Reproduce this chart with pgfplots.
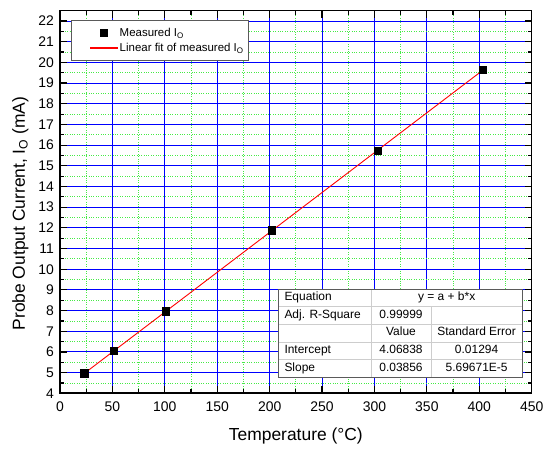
\documentclass[border=0pt]{standalone}
\usepackage{fontspec}
\setmainfont{Liberation Sans}
\usepackage{pgfplots}
\pgfplotsset{compat=1.18}

\definecolor{gridblue}{RGB}{0,0,255}
\definecolor{gridgreen}{RGB}{70,235,70}
\definecolor{fitred}{RGB}{255,0,0}
\definecolor{tabline}{RGB}{205,205,205}
\definecolor{tabborder}{RGB}{90,90,90}

\pgfplotsset{
    markimg/.style={legend image code/.code={%
        \node[inner sep=0pt, minimum size=0pt] at (-17bp,0bp) {};
        \node[inner sep=0pt, minimum size=0pt] at (26.6bp,0bp) {};
        \fill[black] (9.6bp,-3.7bp) rectangle (17bp,3.7bp);}},
    lineimg/.style={legend image code/.code={%
        \node[inner sep=0pt, minimum size=0pt] at (-17bp,0bp) {};
        \fill[fitred] (0bp,-0.5bp) rectangle (26.6bp,0.5bp);}},
}

\begin{document}
\begin{tikzpicture}
\begin{axis}[
    at={(0,0)}, anchor=south west,
    scale only axis,
    width=471.7bp, height=382.6bp,
    xmin=0, xmax=450, ymin=4, ymax=22.5,
    xtick={0,50,...,450}, ytick={4,5,...,22},
    minor x tick num=1, minor y tick num=1,
    tick align=inside,
    major tick length=7bp, minor tick length=4bp,
    tick style={black, line width=1.2bp},
    axis line style={black, line width=1.6bp},
    grid=both,
    major grid style={gridblue, line width=0.9bp},
    minor grid style={gridgreen, dotted, line width=0.8bp},
    ticklabel style={font=\fontsize{14}{16}\selectfont},
    /pgf/number format/assume math mode=true,
    yticklabel style={xshift=-2.6bp},
    xticklabel style={yshift=-5.3bp},
    xlabel={Temperature (°C)},
    ylabel={Probe Output Current, I\textsubscript{O} (mA)},
    label style={font=\fontsize{17.5}{20}\selectfont},
    xlabel style={at={(axis description cs:0.5,0)}, anchor=base, yshift=-46.7bp},
    ylabel style={at={(axis description cs:-0.0742,0.47)}, anchor=base},
    legend style={at={(rel axis cs:0.0227,0.976)}, anchor=north west,
        draw=tabborder, line width=0.8bp, fill=white,
        inner ysep=6bp, row sep=1bp,
        font=\fontsize{11.5}{13}\selectfont},
    legend cell align=left,
]
\addplot[only marks, mark=square*, mark size=3.7bp, black, markimg]
    coordinates {(23,4.98) (51,6.05) (101,7.97) (202,11.88) (303,15.74) (403,19.64)};
\addlegendentry{Measured I\textsubscript{O}}
\addplot[fitred, line width=0.9bp, lineimg]
    coordinates {(23,4.955) (403,19.608)};
\addlegendentry{Linear fit of measured I\textsubscript{O}}
\end{axis}

% fit results table
\begin{scope}[x=1bp, y=1bp, font=\fontsize{12}{14}\selectfont]
\fill[white] (218.3,16) rectangle (462.3,104);
\draw[tabline, line width=0.8bp]
    (218.3,86.4) -- (462.3,86.4)
    (218.3,68.8) -- (462.3,68.8)
    (218.3,51.2) -- (462.3,51.2)
    (218.3,33.6) -- (462.3,33.6)
    (311,16) -- (311,104)
    (371,16) -- (371,86.4);
\draw[tabborder, line width=0.9bp] (218.3,16) rectangle (462.3,104);
\node[anchor=mid west] at (221,95.2) {Equation};
\node[anchor=mid] at (386.7,95.2) {y = a + b*x};
\node[anchor=mid west] at (221,77.6) {Adj. R-Square};
\node[anchor=mid] at (341,77.6) {0.99999};
\node[anchor=mid] at (341,60) {Value};
\node[anchor=mid] at (416.6,60) {Standard Error};
\node[anchor=mid west] at (221,42.4) {Intercept};
\node[anchor=mid] at (341,42.4) {4.06838};
\node[anchor=mid] at (416.6,42.4) {0.01294};
\node[anchor=mid west] at (221,24.8) {Slope};
\node[anchor=mid] at (341,24.8) {0.03856};
\node[anchor=mid] at (416.6,24.8) {5.69671E-5};
\end{scope}

\pgfresetboundingbox
\path[use as bounding box] (-60bp,-57.7bp) rectangle (490bp,393.3bp);
\end{tikzpicture}
\end{document}
